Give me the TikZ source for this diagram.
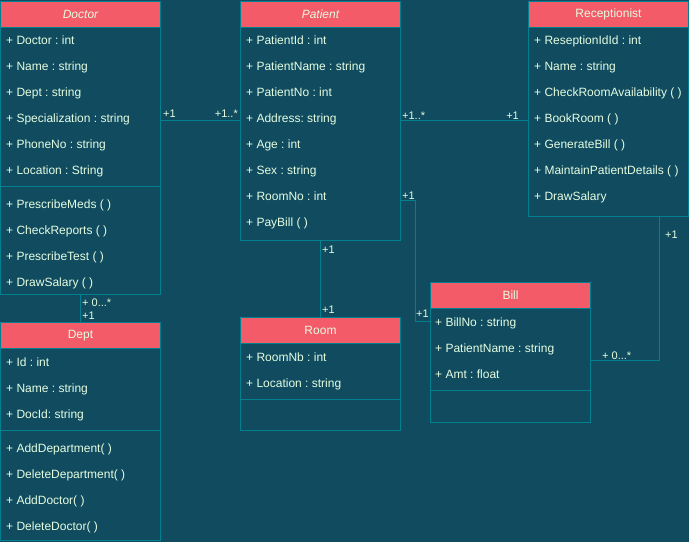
\documentclass[tikz,border=0pt]{standalone}
\usepackage{fontspec}
\setmainfont{Liberation Sans}
\frenchspacing
\definecolor{bgc}{HTML}{114B5F}
\definecolor{hdrc}{HTML}{F45B69}
\definecolor{brd}{HTML}{028090}
\definecolor{txt}{HTML}{E4FDE1}
\tikzset{
  box/.style={draw=brd, line width=1pt, fill=bgc, rectangle, inner sep=0pt, anchor=north west},
  hdr/.style={draw=brd, line width=1pt, fill=hdrc, rectangle, inner sep=0pt, anchor=north west, minimum height=26pt, text=txt, font=\fontsize{12}{14}\selectfont\frenchspacing},
  row/.style={anchor=base west, inner sep=0pt, text=txt, font=\fontsize{12}{14}\selectfont\frenchspacing},
  lbl/.style={anchor=base west, inner sep=0pt, text=txt, font=\fontsize{11}{13}\selectfont\frenchspacing},
  lble/.style={lbl, anchor=base east},
  divl/.style={draw=brd, line width=1pt},
  conn/.style={draw=brd, line width=1pt},
}
\begin{document}
\begin{tikzpicture}[x=1pt,y=-1pt]
\fill[bgc] (0,0) rectangle (689,542);
\useasboundingbox (0,0) rectangle (689,542);

% ---------- Doctor ----------
\node[box, minimum width=160pt, minimum height=293pt] (doctor) at (0,1) {};
\node[hdr, minimum width=160pt] (doctorH) at (0,1) {\itshape Doctor};
\node[row] (d1) at (6,44.3) {+ Doctor : int};
\node[row] (d2) at (6,70.3) {+ Name : string};
\node[row] (d3) at (6,96.3) {+ Dept : string};
\node[row] (d4) at (6,122.3) {+ Specialization : string};
\node[row] (d5) at (6,148.3) {+ PhoneNo : string};
\node[row] (d6) at (6,174.3) {+ Location : String};
\draw[divl] (doctor.west |- 0,186) -- (doctor.east |- 0,186);
\node[row] (d7) at (6,208.3) {+ PrescribeMeds ( )};
\node[row] (d8) at (6,234.3) {+ CheckReports ( )};
\node[row] (d9) at (6,260.3) {+ PrescribeTest ( )};
\node[row] (d10) at (6,286.3) {+ DrawSalary ( )};

% ---------- Patient ----------
\node[box, minimum width=160pt, minimum height=239pt] (patient) at (240,1) {};
\node[hdr, minimum width=160pt] (patientH) at (240,1) {\itshape Patient};
\node[row] (p1) at (246,44.3) {+ PatientId : int};
\node[row] (p2) at (246,70.3) {+ PatientName : string};
\node[row] (p3) at (246,96.3) {+ PatientNo : int};
\node[row] (p4) at (246,122.3) {+ Address: string};
\node[row] (p5) at (246,148.3) {+ Age : int};
\node[row] (p6) at (246,174.3) {+ Sex : string};
\node[row] (p7) at (246,200.3) {+ RoomNo : int};
\node[row] (p8) at (246,226.3) {+ PayBill ( )};

% ---------- Receptionist ----------
\node[box, minimum width=160pt, minimum height=215pt] (recep) at (528,1) {};
\node[hdr, minimum width=160pt] (recepH) at (528,1) {Receptionist};
\node[row] (r1) at (534,44.3) {+ ReseptionIdId : int};
\node[row] (r2) at (534,70.3) {+ Name : string};
\node[row] (r3) at (534,96.3) {+ CheckRoomAvailability ( )};
\node[row] (r4) at (534,122.3) {+ BookRoom ( )};
\node[row] (r5) at (534,148.3) {+ GenerateBill ( )};
\node[row] (r6) at (534,174.3) {+ MaintainPatientDetails ( )};
\node[row] (r7) at (534,200.3) {+ DrawSalary};

% ---------- Dept ----------
\node[box, minimum width=160pt, minimum height=218pt] (dept) at (0,322) {};
\node[hdr, minimum width=160pt] (deptH) at (0,322) {Dept};
\node[row] (e1) at (6,366.3) {+ Id : int};
\node[row] (e2) at (6,392.3) {+ Name : string};
\node[row] (e3) at (6,418.3) {+ DocId: string};
\draw[divl] (dept.west |- 0,430) -- (dept.east |- 0,430);
\node[row] (e4) at (6,452.3) {+ AddDepartment( )};
\node[row] (e5) at (6,478.3) {+ DeleteDepartment( )};
\node[row] (e6) at (6,504.3) {+ AddDoctor( )};
\node[row] (e7) at (6,530.3) {+ DeleteDoctor( )};

% ---------- Room ----------
\node[box, minimum width=160pt, minimum height=113pt] (room) at (240,317) {};
\node[hdr, minimum width=160pt] (roomH) at (240,317) {Room};
\node[row] (m1) at (246,361.3) {+ RoomNb : int};
\node[row] (m2) at (246,387.3) {+ Location : string};
\draw[divl] (room.west |- 0,399) -- (room.east |- 0,399);

% ---------- Bill ----------
\node[box, minimum width=160pt, minimum height=140pt] (bill) at (430,282) {};
\node[hdr, minimum width=160pt] (billH) at (430,282) {Bill};
\node[row] (b1) at (435,326.3) {+ BillNo : string};
\node[row] (b2) at (435,352.3) {+ PatientName : string};
\node[row] (b3) at (435,378.3) {+ Amt : float};
\draw[divl] (bill.west |- 0,390) -- (bill.east |- 0,390);

% ---------- Connectors ----------
\draw[conn] (doctor.east |- 0,120) -- (patient.west |- 0,120);
\draw[conn] (patient.east |- 0,120) -- (recep.west |- 0,120);
\draw[conn] (doctor.south) -- (dept.north);
\draw[conn] (patient.south) -- (room.north);
\coordinate (pb) at (415,321);
\draw[conn] (patient.east |- 0,200) -| (pb) -- (bill.west |- pb);
\coordinate (rb) at (659,360);
\draw[conn] (recep.south -| rb) -- (rb) -- (bill.east |- rb);

% ---------- Labels ----------
\node[lbl] (l1) at (163,117) {+1};
\node[lble] (l2) at (238,117) {+1..*};
\node[lbl] (l3) at (402,119) {+1..*};
\node[lble] (l4) at (519,119) {+1};
\node[lbl] (l5) at (82,306) {+ 0...*};
\node[lbl] (l6) at (82,319.5) {+1};
\node[lbl] (l7) at (322,253) {+1};
\node[lbl] (l8) at (322,313) {+1};
\node[lbl] (l9) at (402,199) {+1};
\node[lbl] (l10) at (416,317.5) {+1};
\node[lbl] (l11) at (665,238) {+1};
\node[lbl] (l12) at (602,359) {+ 0...*};
\end{tikzpicture}
\end{document}
